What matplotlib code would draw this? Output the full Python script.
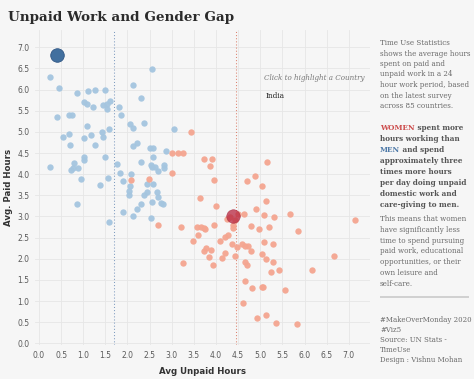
import matplotlib
matplotlib.use("Agg")
import matplotlib.pyplot as plt

# ---------------- data ----------------
men_unpaid = [0.25, 0.45, 0.85, 1.10, 1.26, 1.49, 2.56, 2.13, 2.30, 1.02, 1.08, 1.23, 1.45, 1.53,
              1.60, 1.54, 1.81, 1.85, 0.41, 0.67, 0.75, 1.08, 1.42, 1.59, 0.55, 0.68, 1.02, 1.17,
              1.45, 0.70, 1.26, 2.06, 2.13, 2.38, 3.04, 2.21, 2.13, 2.51, 2.58, 2.87, 2.58, 1.02,
              1.49, 0.25, 0.72, 0.77, 0.88, 0.79, 1.02, 0.96, 1.39, 1.55, 0.85, 1.59, 1.77, 1.83,
              2.07, 1.89, 2.06, 2.04, 2.04, 2.30, 2.53, 2.55, 2.62, 2.68, 2.83, 2.83, 2.43, 2.58,
              2.43, 2.37, 2.66, 2.70, 2.55, 2.76, 2.81, 2.30, 2.21, 1.89, 2.13, 2.52]
men_paid = [6.29, 6.04, 5.91, 5.97, 6.00, 6.00, 6.49, 6.11, 5.80, 5.70, 5.66, 5.60, 5.63, 5.66,
            5.74, 5.55, 5.60, 5.39, 5.35, 5.40, 5.41, 5.14, 5.00, 5.06, 4.88, 4.95, 4.85, 4.92,
            4.88, 4.69, 4.68, 5.18, 5.10, 5.22, 5.08, 4.74, 4.66, 4.62, 4.62, 4.55, 4.41, 4.40,
            4.40, 4.16, 4.11, 4.14, 4.14, 4.27, 4.33, 3.89, 3.75, 3.90, 3.29, 2.87, 4.23, 4.03,
            4.00, 3.83, 3.72, 3.61, 3.51, 4.28, 4.22, 4.16, 4.16, 4.07, 4.22, 4.14, 3.76, 3.76,
            3.58, 3.51, 3.58, 3.45, 3.35, 3.32, 3.29, 3.29, 3.17, 3.11, 3.01, 2.96]

women_unpaid = [3.00, 3.15, 3.25, 2.07, 2.49, 3.01, 2.70, 3.20, 3.43, 3.72, 3.92, 3.87, 5.16, 3.95,
                4.71, 4.88, 5.05, 3.64, 5.13, 4.00, 4.91, 4.64, 5.08, 5.31, 5.68, 7.13, 4.49, 4.24,
                4.32, 4.43, 3.58, 3.66, 3.72, 3.75, 3.96, 4.39, 4.39, 4.79, 4.98, 5.19, 5.86, 3.59,
                3.49, 4.09, 4.21, 4.28, 4.37, 4.47, 4.58, 4.66, 4.72, 4.79, 5.09, 5.28, 3.72, 3.77,
                3.88, 4.21, 3.84, 4.14, 4.42, 5.04, 5.13, 5.28, 6.66, 4.66, 4.70, 3.26, 3.94, 5.25,
                5.42, 6.17, 4.66, 4.82, 5.04, 5.07, 5.57, 4.61, 4.93, 5.13, 5.36, 5.84]
women_paid = [4.49, 4.49, 4.49, 3.87, 3.89, 4.03, 2.80, 2.74, 4.99, 4.35, 4.37, 4.19, 4.29, 3.87,
              3.84, 3.96, 3.72, 3.44, 3.36, 3.24, 3.18, 3.07, 3.04, 2.99, 3.05, 2.91, 3.06, 2.95,
              2.98, 2.91, 2.74, 2.76, 2.72, 2.70, 2.80, 2.80, 2.72, 2.77, 2.70, 2.76, 2.66, 2.57,
              2.43, 2.43, 2.51, 2.57, 2.36, 2.28, 2.34, 2.31, 2.30, 2.19, 2.40, 2.34, 2.19, 2.25,
              2.21, 2.14, 2.05, 2.01, 2.06, 2.11, 1.99, 1.92, 2.06, 1.93, 1.85, 1.89, 1.86, 1.68,
              1.74, 1.73, 1.48, 1.30, 1.34, 1.34, 1.26, 0.96, 0.59, 0.68, 0.49, 0.46]

highlight_country = "India"
highlight_men_unpaid, highlight_men_paid = 0.40, 6.82
highlight_women_unpaid, highlight_women_paid = 4.38, 3.01

avg_men_unpaid = 1.70
avg_women_unpaid = 4.46

tick_values = [0.0, 0.5, 1.0, 1.5, 2.0, 2.5, 3.0, 3.5, 4.0, 4.5, 5.0, 5.5, 6.0, 6.5, 7.0]
tick_labels = ["0.0", "0.5", "1.0", "1.5", "2.0", "2.5", "3.0", "3.5", "4.0", "4.5", "5.0",
               "5.5", "6.0", "6.5", "7.0"]

# ---------------- style ----------------
BG = "#f6f6f6"
MEN_C = "#a4c5df"
WOMEN_C = "#f4a590"
MEN_HL = "#42709f"
WOMEN_HL = "#b8263f"
TXT = "#6a6a6a"
SERIF = "DejaVu Serif"

W, H = 474, 379
fig = plt.figure(figsize=(W / 100, H / 100), dpi=100, facecolor=BG)
ax = fig.add_axes([35 / W, 1 - 345 / H, 335 / W, 315 / H])
ax.set_facecolor(BG)

ax.set_xlim(-0.09, 7.48)
ax.set_ylim(-0.04, 7.41)
ax.set_xticks(tick_values)
ax.set_xticklabels(tick_labels)
ax.set_yticks(tick_values)
ax.set_yticklabels(tick_labels)
ax.tick_params(length=0, labelsize=5.5, labelcolor="#5a5a5a", pad=4)
for s in ax.spines.values():
    s.set_visible(False)
ax.grid(True, color="#e6e6e6", linewidth=0.6)
ax.set_axisbelow(True)

ax.axvline(avg_men_unpaid, color="#7f9cc0", linestyle=(0, (1, 2)), linewidth=0.75, zorder=1)
ax.axvline(avg_women_unpaid, color="#dc8370", linestyle=(0, (1, 2)), linewidth=0.75, zorder=1)

ax.scatter(men_unpaid, men_paid, s=21, color=MEN_C, alpha=0.95, linewidths=0, zorder=3)
ax.scatter(women_unpaid, women_paid, s=21, color=WOMEN_C, alpha=0.95, linewidths=0, zorder=3)
ax.scatter([highlight_men_unpaid], [highlight_men_paid], s=95, color=MEN_HL,
           edgecolors="#2f5684", linewidths=0.6, zorder=4)
ax.scatter([highlight_women_unpaid], [highlight_women_paid], s=95, color=WOMEN_HL, alpha=0.75,
           edgecolors="#a02036", linewidths=0.4, zorder=4)

ax.set_xlabel("Avg Unpaid Hours", fontsize=6.2, color="#333333", fontweight="bold", labelpad=5)
ax.set_ylabel("Avg. Paid Hours", fontsize=6.2, color="#333333", fontweight="bold", labelpad=3)

ax.text(5.09, 6.27, "Click to highlight a Country", fontsize=5.1, style="italic",
        color="#777777", family=SERIF, va="center", ha="left")
ax.text(5.12, 5.85, highlight_country, fontsize=5.3, color="#222222", family=SERIF,
        va="center", ha="left")

# ---------------- title ----------------
fig.text(8 / W, 1 - 21 / H, "Unpaid Work and Gender Gap", fontsize=9.7, fontweight="bold",
         family=SERIF, color="#2b2b2b", va="baseline", ha="left")

# ---------------- side panel ----------------
PX = 380 / W


def block(lines, y0, pitch, size, color=TXT, weight="normal"):
    for i, ln in enumerate(lines):
        fig.text(PX, 1 - (y0 + i * pitch) / H, ln, color=color, fontsize=size,
                 fontweight=weight, family=SERIF, va="center", ha="left")


block(["Time Use Statistics", "shows the average hours", "spent on paid and",
       "unpaid work in a 24", "hour work period, based", "on the latest survey",
       "across 85 countries."], 43, 10.5, 5.1)

BOLDC = "#555555"
RED = "#cc4b4b"
BLUE = "#4f7aa8"
BSIZE = 5.2
y0 = 128
pitch2 = 11
bold_lines = [
    [("WOMEN", RED), (" spent more", BOLDC)],
    [("hours working than", BOLDC)],
    [("MEN", BLUE), (" and spend", BOLDC)],
    [("approximately three", BOLDC)],
    [("times more hours", BOLDC)],
    [("per day doing unpaid", BOLDC)],
    [("domestic work and", BOLDC)],
    [("care-giving to men.", BOLDC)],
]
for i, parts in enumerate(bold_lines):
    prev = fig.text(PX, 1 - (y0 + i * pitch2) / H, parts[0][0], color=parts[0][1],
                    fontsize=BSIZE, fontweight="bold", family=SERIF, va="center", ha="left")
    for s, c in parts[1:]:
        prev = ax.annotate(s, xy=(1, 0), xycoords=prev, va="bottom", ha="left", color=c,
                           fontsize=BSIZE, fontweight="bold", family=SERIF,
                           annotation_clip=False)

block(["This means that women", "have significantly less", "time to spend pursuing",
       "paid work, educational", "opportunities, or their", "own leisure and",
       "self-care."], 219, 10.8, 5.1)

fig.add_artist(plt.Line2D([381 / W, 468 / W], [1 - 297 / H, 1 - 297 / H],
                          transform=fig.transFigure, color="#d0d0d0", linewidth=1.4))

block(["#MakeOverMonday 2020", "#Viz5", "Source: UN Stats -", "TimeUse",
       "Design : Vishnu Mohan"], 320, 10, 5.0)

fig.savefig("out.png", dpi=100, facecolor=BG)
